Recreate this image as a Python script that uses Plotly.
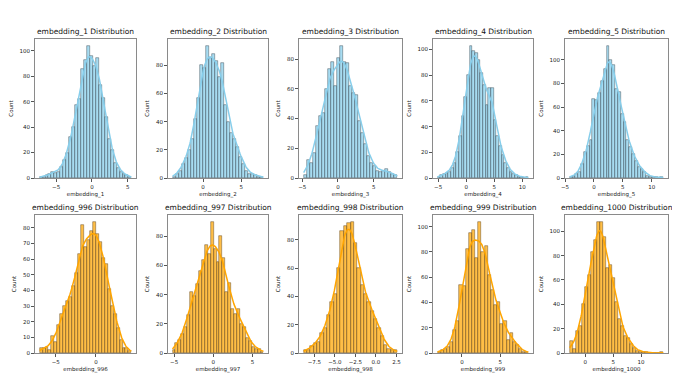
import numpy as np
import plotly.graph_objects as go

# ---------------- data ----------------
names = ["embedding_1", "embedding_2", "embedding_3", "embedding_4", "embedding_5",
         "embedding_996", "embedding_997", "embedding_998", "embedding_999", "embedding_1000"]

# data extent (min, max) of each embedding
x_min = [-7.3, -4.0, -4.8, -5.1, -4.2, -7.0, -5.2, -8.8, -3.2, -2.8]
x_max = [5.5, 7.9, 8.3, 11.1, 12.0, 4.4, 6.4, 2.6, 8.7, 14.0]

counts_1 = [1, 1, 2, 3, 5, 4, 5, 9, 14, 20, 32, 40, 57, 62, 86, 93, 104, 96, 88, 94, 73, 63, 48, 31, 22, 12, 8, 5, 3, 2, 1]
counts_2 = [1, 3, 5, 10, 14, 20, 28, 42, 57, 80, 78, 94, 85, 88, 83, 72, 82, 52, 40, 32, 28, 22, 15, 10, 5, 3, 3, 2, 1, 1]
counts_3 = [2, 12, 10, 17, 35, 42, 44, 60, 73, 78, 62, 81, 89, 78, 77, 62, 57, 56, 38, 30, 23, 15, 10, 8, 5, 4, 5, 6, 4, 3, 2]
counts_4 = [1, 2, 3, 4, 5, 8, 12, 20, 33, 48, 63, 80, 103, 99, 97, 92, 82, 72, 57, 70, 70, 45, 33, 25, 18, 12, 8, 5, 3, 2, 1, 1, 0, 1]
counts_5 = [1, 2, 3, 5, 12, 22, 27, 32, 67, 66, 72, 82, 92, 112, 100, 96, 75, 73, 54, 47, 32, 26, 20, 14, 9, 8, 5, 2, 1, 1, 1, 0, 1]
counts_996 = [3, 3, 4, 2, 11, 7, 18, 25, 30, 33, 36, 43, 51, 63, 82, 68, 72, 78, 84, 76, 71, 61, 57, 41, 30, 25, 16, 8, 3, 3, 1]
counts_997 = [2, 7, 9, 13, 18, 26, 42, 39, 47, 56, 64, 74, 68, 90, 71, 62, 80, 65, 42, 48, 30, 27, 30, 20, 18, 10, 8, 4, 3, 3, 1]
counts_998 = [2, 2, 5, 7, 8, 14, 18, 27, 36, 42, 60, 86, 90, 92, 93, 78, 60, 48, 42, 36, 30, 24, 18, 12, 6, 3, 2, 2]
counts_999 = [1, 2, 3, 5, 9, 18, 25, 54, 53, 82, 95, 97, 75, 104, 80, 85, 62, 50, 38, 40, 23, 25, 10, 16, 9, 6, 3, 1, 1]
counts_1000 = [10, 3, 18, 22, 40, 54, 64, 83, 93, 108, 108, 95, 70, 72, 62, 42, 28, 22, 14, 12, 7, 4, 2, 1, 1, 1, 0, 0, 0, 0, 1]

all_counts = [counts_1, counts_2, counts_3, counts_4, counts_5,
              counts_996, counts_997, counts_998, counts_999, counts_1000]

x_ticks = [[-5, 0, 5], [0, 5], [-5, 0, 5], [-5, 0, 5, 10], [-5, 0, 5, 10],
           [-5, 0, 5], [-5, 0, 5], [-7.5, -5.0, -2.5, 0.0, 2.5], [0, 5], [0, 5, 10]]
y_dtick = [20, 20, 20, 20, 20, 10, 20, 20, 20, 20]

# ---------------- style ----------------
fills = ["rgba(135,206,235,0.72)"] * 5 + ["rgba(255,165,0,0.72)"] * 5
lines = ["#87CEEB"] * 5 + ["#FFA500"] * 5
edges = ["rgba(45,60,70,0.7)"] * 5 + ["rgba(80,55,20,0.7)"] * 5

# the page body has an 8px margin, so the figure is sized to fit inside the window
OFF = 8
W, H = 680 - 2 * OFF, 381 - 2 * OFF
col_l = [35, 168, 299, 433, 565]
col_r = [136, 268, 402, 533, 668]
row_t = [39, 215]
row_b = [178, 353]

FONT = "DejaVu Sans"
fig = go.Figure()
annotations = []

for i in range(10):
    r, c = divmod(i, 5)
    counts = np.array(all_counts[i], dtype=float)
    n = len(counts)
    lo, hi = x_min[i], x_max[i]
    bw = (hi - lo) / n
    centers = lo + bw * (np.arange(n) + 0.5)

    # smooth density curve derived from the histogram (Gaussian kernel)
    total = counts.sum()
    mean = (counts * centers).sum() / total
    std = np.sqrt((counts * (centers - mean) ** 2).sum() / total)
    h = 1.2 * std * total ** (-0.2)
    gx = np.linspace(lo, hi, 200)
    dens = (counts[None, :] * np.exp(-0.5 * ((gx[:, None] - centers[None, :]) / h) ** 2)).sum(axis=1)
    dens = dens / (h * np.sqrt(2 * np.pi)) * bw

    ax = "" if i == 0 else str(i + 1)
    fig.add_trace(go.Bar(x=centers, y=counts, width=bw,
                         marker=dict(color=fills[i], line=dict(color=edges[i], width=0.6)),
                         xaxis="x" + ax, yaxis="y" + ax, showlegend=False))
    fig.add_trace(go.Scatter(x=gx, y=dens, mode="lines", line=dict(color=lines[i], width=1.5),
                             xaxis="x" + ax, yaxis="y" + ax, showlegend=False))

    ymax = max(counts.max(), dens.max()) * 1.05
    pad = (hi - lo) * 0.05
    xd = [(col_l[c] - OFF) / W, (col_r[c] - OFF) / W]
    yd = [1 - (row_b[r] - OFF) / H, 1 - (row_t[r] - OFF) / H]
    fmt = ".1f" if i == 7 else "d"
    common = dict(showline=True, mirror=True, linecolor="#8a8a8a", linewidth=1,
                  ticks="outside", ticklen=3, tickcolor="#555", tickwidth=0.8, automargin=False,
                  showgrid=False, zeroline=False, tickfont=dict(size=5.5, family=FONT, color="#222"))
    fig.layout["xaxis" + ax] = dict(domain=xd, anchor="y" + ax, range=[lo - pad, hi + pad],
                                     tickvals=x_ticks[i], tickformat=fmt,
                                     title=dict(text=names[i], font=dict(size=5.5, family=FONT, color="#222"), standoff=3),
                                     **common)
    fig.layout["yaxis" + ax] = dict(domain=yd, anchor="x" + ax, range=[0, ymax],
                                     dtick=y_dtick[i], tick0=0,
                                     title=dict(text="Count", font=dict(size=5.5, family=FONT, color="#222"), standoff=5),
                                     **common)
    annotations.append(dict(text=names[i] + " Distribution", x=(xd[0] + xd[1]) / 2, y=yd[1],
                            xref="paper", yref="paper", xanchor="center", yanchor="bottom",
                            yshift=1, showarrow=False, font=dict(size=7.5, family=FONT, color="#111")))

fig.update_layout(width=W, height=H, margin=dict(l=0, r=0, t=0, b=0, autoexpand=False),
                  paper_bgcolor="white", plot_bgcolor="white", bargap=0,
                  annotations=annotations)
fig.write_html("out.html")
